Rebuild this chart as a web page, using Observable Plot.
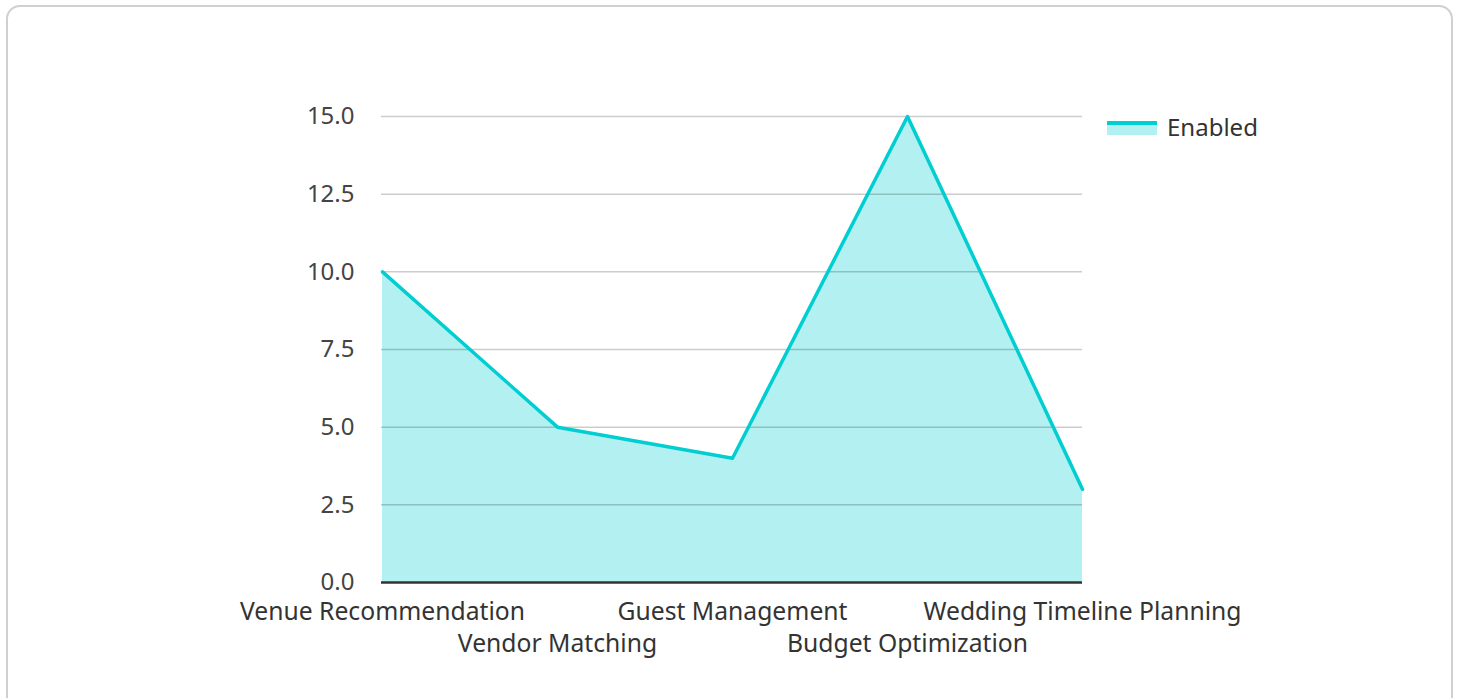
<!DOCTYPE html>
<html>
<head>
<meta charset="utf-8">
<script src="https://cdn.jsdelivr.net/npm/d3@7"></script>
<script src="https://cdn.jsdelivr.net/npm/@observablehq/plot@0.6"></script>
<style>
  html, body { margin: 0; padding: 0; background: #fff; overflow: hidden; }
  body { width: 1458px; height: 698px; position: relative; font-family: "Noto Sans", sans-serif; }
  #card { position: absolute; left: 6px; top: 5px; width: 1447px; height: 740px; border: 2px solid #d0d0d0; border-radius: 14px; box-sizing: border-box; }
  #chart { position: absolute; left: 0; top: 0; }
  #legend { position: absolute; left: 1107px; top: 110px; display: flex; align-items: center; font-size: 24px; color: #333; }
  #swatch { width: 50px; height: 14px; background: rgba(0,206,209,0.3); border-top: 4px solid #00CED1; box-sizing: border-box; margin-right: 10px; margin-top: 2px; }
</style>
</head>
<body>
<div id="card"></div>
<div id="chart"></div>
<div id="legend"><div id="swatch"></div><span>Enabled</span></div>
<script>
const categories = ["Venue Recommendation", "Vendor Matching", "Guest Management", "Budget Optimization", "Wedding Timeline Planning"];
const values = [10, 5, 4, 15, 3];
const yTicks = [0, 2.5, 5, 7.5, 10, 12.5, 15];
const seriesName = "Enabled";

const data = categories.map((c, i) => ({category: c, value: values[i]}));
const evenCats = categories.filter((_, i) => i % 2 === 0);
const oddCats = categories.filter((_, i) => i % 2 === 1);

const chart = Plot.plot({
  width: 1458,
  height: 698,
  marginLeft: 381,
  marginRight: 376,
  marginTop: 116,
  marginBottom: 116,
  style: {fontFamily: "Noto Sans, sans-serif", fontSize: "24px", color: "#444", background: "transparent", overflow: "visible"},
  x: {type: "point", domain: categories, padding: 0, axis: null},
  y: {domain: [0, 15], axis: null},
  marks: [
    Plot.areaY(data, {x: "category", y: "value", fill: "#00CED1", fillOpacity: 0.3, curve: "linear"}),
    Plot.ruleY(yTicks.filter(d => d > 0), {stroke: "#000", strokeOpacity: 0.2, strokeWidth: 1.5}),
    Plot.lineY(data, {x: "category", y: "value", stroke: "#00CED1", strokeWidth: 3.5}),
    Plot.ruleY([0], {stroke: "#333", strokeWidth: 2.5}),
    Plot.axisY(yTicks, {tickSize: 0, tickPadding: 27, tickFormat: d => d.toFixed(1), fill: "#444", fontSize: 24, label: null}),
    Plot.axisX(evenCats, {tickSize: 0, tickPadding: 0, dy: 20, fill: "#333", fontSize: 24.7, label: null}),
    Plot.axisX(oddCats, {tickSize: 0, tickPadding: 0, dy: 52, fill: "#333", fontSize: 24.7, label: null})
  ]
});
document.getElementById("chart").appendChild(chart);
</script>
</body>
</html>
